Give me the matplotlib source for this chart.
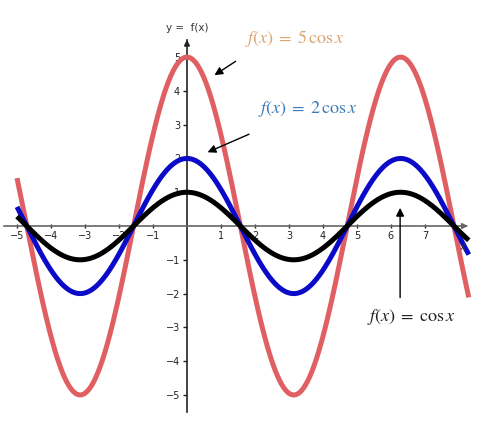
import numpy as np
import matplotlib
matplotlib.use('Agg')
import matplotlib.pyplot as plt

plt.rcParams['mathtext.fontset'] = 'stix'

# amplitudes of f(x) = A cos x
AMPS = [5, 2, 1]
COLORS = ['#e05f63', '#0a0ac8', '#000000']
X_START, X_END = -5.0, 8.29
XTICKS = [-5, -4, -3, -2, -1, 1, 2, 3, 4, 5, 6, 7]
YTICKS = [-5, -4, -3, -2, -1, 1, 2, 3, 4, 5]

fig = plt.figure(figsize=(4.8, 4.23), dpi=100)
ax = fig.add_axes([0, 0, 1, 1])
ax.set_xlim(-5.5, 8.62)
ax.set_ylim(-5.83, 6.69)

x = np.linspace(X_START, X_END, 600)
for a, c in zip(AMPS, COLORS):
    ax.plot(x, a * np.cos(x), color=c, linewidth=3.6, solid_capstyle='butt', zorder=3)

# axes through the origin
for s in ['top', 'right']:
    ax.spines[s].set_visible(False)
ax.spines['left'].set_position(('data', 0))
ax.spines['bottom'].set_position(('data', 0))
ax.spines['left'].set_bounds(-5.5, 5.5)
ax.spines['bottom'].set_bounds(-5.38, 8.2)
ax.spines['left'].set_color('#222222')
ax.spines['bottom'].set_color('#666666')
ax.spines['left'].set_linewidth(1.2)
ax.spines['bottom'].set_linewidth(1.2)
ax.annotate('', xy=(8.35, 0), xytext=(8.1, 0),
            arrowprops=dict(arrowstyle='-|>', color='#666666', lw=1.2,
                            mutation_scale=8))
ax.annotate('', xy=(0, 5.6), xytext=(0, 5.3),
            arrowprops=dict(arrowstyle='-|>', color='#222222', lw=1.2,
                            mutation_scale=8))

ax.set_xticks(XTICKS)
ax.set_yticks(YTICKS)
ax.set_xticklabels([f'\u2212{-t}' if t < 0 else str(t) for t in XTICKS])
ax.set_yticklabels([f'\u2212{-t}' if t < 0 else str(t) for t in YTICKS])
ax.tick_params(axis='both', length=3, width=1, labelsize=7, colors='#222222',
               pad=2)
ax.tick_params(axis='x', direction='inout')
ax.tick_params(axis='y', direction='out')

ax.text(0, 5.85, 'y =  f(x)', fontsize=7.5, color='#333333', ha='center', va='center')
ax.text(8.1, -0.62, 'x', fontsize=7, color='#333333', ha='center', va='center')

# labels and arrows
ax.text(1.7, 5.55, r'$f(x)\;=\;5\,\cos x$', fontsize=13, color='#dba36f',
        ha='left', va='center')
ax.annotate('', xy=(0.74, 4.42), xytext=(1.5, 4.92),
            arrowprops=dict(arrowstyle='-|>', color='black', lw=1,
                            mutation_scale=12))
ax.text(2.1, 3.45, r'$f(x)\;=\;2\,\cos x$', fontsize=13, color='#3b7ab8',
        ha='left', va='center')
ax.annotate('', xy=(0.53, 2.15), xytext=(1.9, 2.75),
            arrowprops=dict(arrowstyle='-|>', color='black', lw=1,
                            mutation_scale=12))
ax.text(5.3, -2.7, r'$f(x)\;=\;\cos x$', fontsize=13, color='#222222',
        ha='left', va='center')
ax.annotate('', xy=(6.27, 0.62), xytext=(6.27, -2.2),
            arrowprops=dict(arrowstyle='-|>', color='black', lw=1,
                            mutation_scale=12))

fig.savefig('out.png', dpi=100)
